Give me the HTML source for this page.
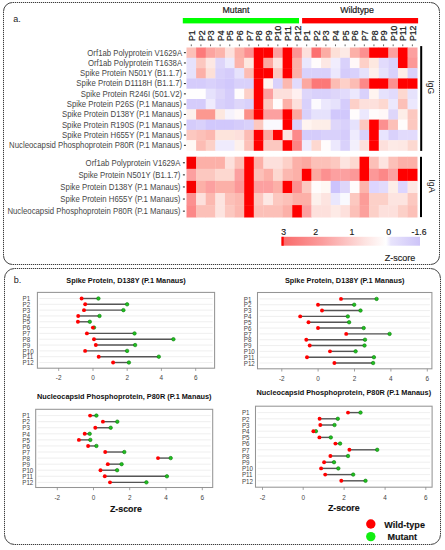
<!DOCTYPE html>
<html><head><meta charset="utf-8"><style>
html,body{margin:0;padding:0;background:#fff;}
body{width:445px;height:550px;overflow:hidden;font-family:"Liberation Sans",sans-serif;}
svg{display:block;}
</style></head><body>
<svg width="445" height="550" viewBox="0 0 445 550">
<line x1="13" y1="2.5" x2="430" y2="2.5" stroke="#d2d2d2" stroke-width="1"/>
<line x1="13" y1="2.5" x2="430" y2="2.5" stroke="#3c3c3c" stroke-width="1" stroke-dasharray="1 1"/>
<line x1="13" y1="264.5" x2="430" y2="264.5" stroke="#d2d2d2" stroke-width="1"/>
<line x1="13" y1="264.5" x2="430" y2="264.5" stroke="#3c3c3c" stroke-width="1" stroke-dasharray="1 1"/>
<line x1="3.5" y1="12" x2="3.5" y2="255" stroke="#d2d2d2" stroke-width="1"/>
<line x1="3.5" y1="12" x2="3.5" y2="255" stroke="#3c3c3c" stroke-width="1" stroke-dasharray="1 1"/>
<line x1="439.5" y1="12" x2="439.5" y2="255" stroke="#d2d2d2" stroke-width="1"/>
<line x1="439.5" y1="12" x2="439.5" y2="255" stroke="#3c3c3c" stroke-width="1" stroke-dasharray="1 1"/>
<line x1="15" y1="268.5" x2="430" y2="268.5" stroke="#d2d2d2" stroke-width="1"/>
<line x1="15" y1="268.5" x2="430" y2="268.5" stroke="#3c3c3c" stroke-width="1" stroke-dasharray="1 1"/>
<line x1="15" y1="544.5" x2="430" y2="544.5" stroke="#d2d2d2" stroke-width="1"/>
<line x1="15" y1="544.5" x2="430" y2="544.5" stroke="#3c3c3c" stroke-width="1" stroke-dasharray="1 1"/>
<line x1="4.5" y1="279" x2="4.5" y2="534" stroke="#d2d2d2" stroke-width="1"/>
<line x1="4.5" y1="279" x2="4.5" y2="534" stroke="#3c3c3c" stroke-width="1" stroke-dasharray="1 1"/>
<line x1="440.5" y1="279" x2="440.5" y2="534" stroke="#d2d2d2" stroke-width="1"/>
<line x1="440.5" y1="279" x2="440.5" y2="534" stroke="#3c3c3c" stroke-width="1" stroke-dasharray="1 1"/>
<path d="M3.5,11.5 A9,9 0 0 1 12.5,2.5" fill="none" stroke="#444" stroke-width="1.0"/>
<path d="M430.5,2.5 A9,9 0 0 1 439.5,11.5" fill="none" stroke="#444" stroke-width="1.0"/>
<path d="M439.5,255.5 A9,9 0 0 1 430.5,264.5" fill="none" stroke="#444" stroke-width="1.0"/>
<path d="M12.5,264.5 A9,9 0 0 1 3.5,255.5" fill="none" stroke="#444" stroke-width="1.0"/>
<path d="M4.5,278.5 A10,10 0 0 1 14.5,268.5" fill="none" stroke="#444" stroke-width="1.0"/>
<path d="M430.5,268.5 A10,10 0 0 1 440.5,278.5" fill="none" stroke="#444" stroke-width="1.0"/>
<path d="M440.5,534.5 A10,10 0 0 1 430.5,544.5" fill="none" stroke="#444" stroke-width="1.0"/>
<path d="M14.5,544.5 A10,10 0 0 1 4.5,534.5" fill="none" stroke="#444" stroke-width="1.0"/>
<text x="13.3" y="22" font-size="9" fill="#222" font-family="Liberation Sans, sans-serif">a.</text>
<text x="13.8" y="282.5" font-size="9" fill="#222" font-family="Liberation Sans, sans-serif">b.</text>
<text x="236" y="12.9" font-size="8.8" fill="#1a1a1a" stroke="#1a1a1a" stroke-width="0.2" text-anchor="middle" font-family="Liberation Sans, sans-serif">Mutant</text>
<text x="357" y="12.9" font-size="8.8" fill="#1a1a1a" stroke="#1a1a1a" stroke-width="0.2" text-anchor="middle" font-family="Liberation Sans, sans-serif">Wildtype</text>
<rect x="182.8" y="18" width="116.2" height="5.4" fill="#00ff00"/>
<rect x="302.1" y="18" width="116" height="5.4" fill="#ff0000"/>
<text transform="translate(194.91,41.1) rotate(-90)" font-size="8.7" fill="#1a1a1a" stroke="#1a1a1a" stroke-width="0.25" font-family="Liberation Sans, sans-serif">P1</text>
<line x1="191.31" y1="44.4" x2="191.31" y2="46.2" stroke="#555" stroke-width="0.9"/>
<text transform="translate(204.52,41.1) rotate(-90)" font-size="8.7" fill="#1a1a1a" stroke="#1a1a1a" stroke-width="0.25" font-family="Liberation Sans, sans-serif">P2</text>
<line x1="200.92" y1="44.4" x2="200.92" y2="46.2" stroke="#555" stroke-width="0.9"/>
<text transform="translate(214.13,41.1) rotate(-90)" font-size="8.7" fill="#1a1a1a" stroke="#1a1a1a" stroke-width="0.25" font-family="Liberation Sans, sans-serif">P3</text>
<line x1="210.53" y1="44.4" x2="210.53" y2="46.2" stroke="#555" stroke-width="0.9"/>
<text transform="translate(223.74,41.1) rotate(-90)" font-size="8.7" fill="#1a1a1a" stroke="#1a1a1a" stroke-width="0.25" font-family="Liberation Sans, sans-serif">P4</text>
<line x1="220.14" y1="44.4" x2="220.14" y2="46.2" stroke="#555" stroke-width="0.9"/>
<text transform="translate(233.36,41.1) rotate(-90)" font-size="8.7" fill="#1a1a1a" stroke="#1a1a1a" stroke-width="0.25" font-family="Liberation Sans, sans-serif">P5</text>
<line x1="229.76" y1="44.4" x2="229.76" y2="46.2" stroke="#555" stroke-width="0.9"/>
<text transform="translate(242.97,41.1) rotate(-90)" font-size="8.7" fill="#1a1a1a" stroke="#1a1a1a" stroke-width="0.25" font-family="Liberation Sans, sans-serif">P6</text>
<line x1="239.37" y1="44.4" x2="239.37" y2="46.2" stroke="#555" stroke-width="0.9"/>
<text transform="translate(252.58,41.1) rotate(-90)" font-size="8.7" fill="#1a1a1a" stroke="#1a1a1a" stroke-width="0.25" font-family="Liberation Sans, sans-serif">P7</text>
<line x1="248.98" y1="44.4" x2="248.98" y2="46.2" stroke="#555" stroke-width="0.9"/>
<text transform="translate(262.19,41.1) rotate(-90)" font-size="8.7" fill="#1a1a1a" stroke="#1a1a1a" stroke-width="0.25" font-family="Liberation Sans, sans-serif">P8</text>
<line x1="258.59" y1="44.4" x2="258.59" y2="46.2" stroke="#555" stroke-width="0.9"/>
<text transform="translate(271.81,41.1) rotate(-90)" font-size="8.7" fill="#1a1a1a" stroke="#1a1a1a" stroke-width="0.25" font-family="Liberation Sans, sans-serif">P9</text>
<line x1="268.21" y1="44.4" x2="268.21" y2="46.2" stroke="#555" stroke-width="0.9"/>
<text transform="translate(281.42,41.1) rotate(-90)" font-size="8.7" fill="#1a1a1a" stroke="#1a1a1a" stroke-width="0.25" font-family="Liberation Sans, sans-serif">P10</text>
<line x1="277.82" y1="44.4" x2="277.82" y2="46.2" stroke="#555" stroke-width="0.9"/>
<text transform="translate(291.03,41.1) rotate(-90)" font-size="8.7" fill="#1a1a1a" stroke="#1a1a1a" stroke-width="0.25" font-family="Liberation Sans, sans-serif">P11</text>
<line x1="287.43" y1="44.4" x2="287.43" y2="46.2" stroke="#555" stroke-width="0.9"/>
<text transform="translate(300.64,41.1) rotate(-90)" font-size="8.7" fill="#1a1a1a" stroke="#1a1a1a" stroke-width="0.25" font-family="Liberation Sans, sans-serif">P12</text>
<line x1="297.04" y1="44.4" x2="297.04" y2="46.2" stroke="#555" stroke-width="0.9"/>
<text transform="translate(310.26,41.1) rotate(-90)" font-size="8.7" fill="#1a1a1a" stroke="#1a1a1a" stroke-width="0.25" font-family="Liberation Sans, sans-serif">P1</text>
<line x1="306.66" y1="44.4" x2="306.66" y2="46.2" stroke="#555" stroke-width="0.9"/>
<text transform="translate(319.87,41.1) rotate(-90)" font-size="8.7" fill="#1a1a1a" stroke="#1a1a1a" stroke-width="0.25" font-family="Liberation Sans, sans-serif">P2</text>
<line x1="316.27" y1="44.4" x2="316.27" y2="46.2" stroke="#555" stroke-width="0.9"/>
<text transform="translate(329.48,41.1) rotate(-90)" font-size="8.7" fill="#1a1a1a" stroke="#1a1a1a" stroke-width="0.25" font-family="Liberation Sans, sans-serif">P3</text>
<line x1="325.88" y1="44.4" x2="325.88" y2="46.2" stroke="#555" stroke-width="0.9"/>
<text transform="translate(339.09,41.1) rotate(-90)" font-size="8.7" fill="#1a1a1a" stroke="#1a1a1a" stroke-width="0.25" font-family="Liberation Sans, sans-serif">P4</text>
<line x1="335.49" y1="44.4" x2="335.49" y2="46.2" stroke="#555" stroke-width="0.9"/>
<text transform="translate(348.71,41.1) rotate(-90)" font-size="8.7" fill="#1a1a1a" stroke="#1a1a1a" stroke-width="0.25" font-family="Liberation Sans, sans-serif">P5</text>
<line x1="345.11" y1="44.4" x2="345.11" y2="46.2" stroke="#555" stroke-width="0.9"/>
<text transform="translate(358.32,41.1) rotate(-90)" font-size="8.7" fill="#1a1a1a" stroke="#1a1a1a" stroke-width="0.25" font-family="Liberation Sans, sans-serif">P6</text>
<line x1="354.72" y1="44.4" x2="354.72" y2="46.2" stroke="#555" stroke-width="0.9"/>
<text transform="translate(367.93,41.1) rotate(-90)" font-size="8.7" fill="#1a1a1a" stroke="#1a1a1a" stroke-width="0.25" font-family="Liberation Sans, sans-serif">P7</text>
<line x1="364.33" y1="44.4" x2="364.33" y2="46.2" stroke="#555" stroke-width="0.9"/>
<text transform="translate(377.54,41.1) rotate(-90)" font-size="8.7" fill="#1a1a1a" stroke="#1a1a1a" stroke-width="0.25" font-family="Liberation Sans, sans-serif">P8</text>
<line x1="373.94" y1="44.4" x2="373.94" y2="46.2" stroke="#555" stroke-width="0.9"/>
<text transform="translate(387.16,41.1) rotate(-90)" font-size="8.7" fill="#1a1a1a" stroke="#1a1a1a" stroke-width="0.25" font-family="Liberation Sans, sans-serif">P9</text>
<line x1="383.56" y1="44.4" x2="383.56" y2="46.2" stroke="#555" stroke-width="0.9"/>
<text transform="translate(396.77,41.1) rotate(-90)" font-size="8.7" fill="#1a1a1a" stroke="#1a1a1a" stroke-width="0.25" font-family="Liberation Sans, sans-serif">P10</text>
<line x1="393.17" y1="44.4" x2="393.17" y2="46.2" stroke="#555" stroke-width="0.9"/>
<text transform="translate(406.38,41.1) rotate(-90)" font-size="8.7" fill="#1a1a1a" stroke="#1a1a1a" stroke-width="0.25" font-family="Liberation Sans, sans-serif">P11</text>
<line x1="402.78" y1="44.4" x2="402.78" y2="46.2" stroke="#555" stroke-width="0.9"/>
<text transform="translate(415.99,41.1) rotate(-90)" font-size="8.7" fill="#1a1a1a" stroke="#1a1a1a" stroke-width="0.25" font-family="Liberation Sans, sans-serif">P12</text>
<line x1="412.39" y1="44.4" x2="412.39" y2="46.2" stroke="#555" stroke-width="0.9"/>
<rect x="186.50" y="47.50" width="9.91" height="10.60" fill="#fcc0b8"/>
<rect x="196.11" y="47.50" width="9.91" height="10.60" fill="#fd7a7a"/>
<rect x="205.72" y="47.50" width="9.91" height="10.60" fill="#fca4a0"/>
<rect x="215.34" y="47.50" width="9.91" height="10.60" fill="#fcb4ac"/>
<rect x="224.95" y="47.50" width="9.91" height="10.60" fill="#fde0dc"/>
<rect x="234.56" y="47.50" width="9.91" height="10.60" fill="#fcb0a8"/>
<rect x="244.18" y="47.50" width="9.91" height="10.60" fill="#fc9090"/>
<rect x="253.79" y="47.50" width="9.91" height="10.60" fill="#ff0000"/>
<rect x="263.40" y="47.50" width="9.91" height="10.60" fill="#ff0000"/>
<rect x="273.01" y="47.50" width="9.91" height="10.60" fill="#fca0a0"/>
<rect x="282.62" y="47.50" width="9.91" height="10.60" fill="#ff0000"/>
<rect x="292.24" y="47.50" width="9.91" height="10.60" fill="#fc9494"/>
<rect x="301.85" y="47.50" width="9.91" height="10.60" fill="#fde0dc"/>
<rect x="311.46" y="47.50" width="9.91" height="10.60" fill="#fc7070"/>
<rect x="321.07" y="47.50" width="9.91" height="10.60" fill="#fcaca4"/>
<rect x="330.69" y="47.50" width="9.91" height="10.60" fill="#fde0d8"/>
<rect x="340.30" y="47.50" width="9.91" height="10.60" fill="#fdeae6"/>
<rect x="349.91" y="47.50" width="9.91" height="10.60" fill="#fcb0a8"/>
<rect x="359.52" y="47.50" width="9.91" height="10.60" fill="#fc9090"/>
<rect x="369.14" y="47.50" width="9.91" height="10.60" fill="#ff0000"/>
<rect x="378.75" y="47.50" width="9.91" height="10.60" fill="#ff0000"/>
<rect x="388.36" y="47.50" width="9.91" height="10.60" fill="#fca0a0"/>
<rect x="397.97" y="47.50" width="9.91" height="10.60" fill="#ff0000"/>
<rect x="407.59" y="47.50" width="9.91" height="10.60" fill="#fca0a0"/>
<rect x="186.50" y="57.80" width="9.91" height="10.60" fill="#e6e2fc"/>
<rect x="196.11" y="57.80" width="9.91" height="10.60" fill="#fcc8c0"/>
<rect x="205.72" y="57.80" width="9.91" height="10.60" fill="#fde8e4"/>
<rect x="215.34" y="57.80" width="9.91" height="10.60" fill="#ded6fa"/>
<rect x="224.95" y="57.80" width="9.91" height="10.60" fill="#eceafd"/>
<rect x="234.56" y="57.80" width="9.91" height="10.60" fill="#fcb4ac"/>
<rect x="244.18" y="57.80" width="9.91" height="10.60" fill="#fde8e0"/>
<rect x="253.79" y="57.80" width="9.91" height="10.60" fill="#ff0000"/>
<rect x="263.40" y="57.80" width="9.91" height="10.60" fill="#fca8a0"/>
<rect x="273.01" y="57.80" width="9.91" height="10.60" fill="#fde4e0"/>
<rect x="282.62" y="57.80" width="9.91" height="10.60" fill="#ff0000"/>
<rect x="292.24" y="57.80" width="9.91" height="10.60" fill="#fcb0a8"/>
<rect x="301.85" y="57.80" width="9.91" height="10.60" fill="#eae7fd"/>
<rect x="311.46" y="57.80" width="9.91" height="10.60" fill="#fffcfc"/>
<rect x="321.07" y="57.80" width="9.91" height="10.60" fill="#fde8e4"/>
<rect x="330.69" y="57.80" width="9.91" height="10.60" fill="#f1edfd"/>
<rect x="340.30" y="57.80" width="9.91" height="10.60" fill="#d9d1fb"/>
<rect x="349.91" y="57.80" width="9.91" height="10.60" fill="#fff8f8"/>
<rect x="359.52" y="57.80" width="9.91" height="10.60" fill="#fdd0c8"/>
<rect x="369.14" y="57.80" width="9.91" height="10.60" fill="#fde8e0"/>
<rect x="378.75" y="57.80" width="9.91" height="10.60" fill="#e2dbfc"/>
<rect x="388.36" y="57.80" width="9.91" height="10.60" fill="#d9d1fb"/>
<rect x="397.97" y="57.80" width="9.91" height="10.60" fill="#ff0000"/>
<rect x="407.59" y="57.80" width="9.91" height="10.60" fill="#fc9898"/>
<rect x="186.50" y="68.10" width="9.91" height="10.60" fill="#e6e2fc"/>
<rect x="196.11" y="68.10" width="9.91" height="10.60" fill="#fcb0a8"/>
<rect x="205.72" y="68.10" width="9.91" height="10.60" fill="#fde0d8"/>
<rect x="215.34" y="68.10" width="9.91" height="10.60" fill="#d9d1fb"/>
<rect x="224.95" y="68.10" width="9.91" height="10.60" fill="#d5ccfb"/>
<rect x="234.56" y="68.10" width="9.91" height="10.60" fill="#e6e2fc"/>
<rect x="244.18" y="68.10" width="9.91" height="10.60" fill="#fcbcb4"/>
<rect x="253.79" y="68.10" width="9.91" height="10.60" fill="#ff0000"/>
<rect x="263.40" y="68.10" width="9.91" height="10.60" fill="#ff0000"/>
<rect x="273.01" y="68.10" width="9.91" height="10.60" fill="#fcc8c0"/>
<rect x="282.62" y="68.10" width="9.91" height="10.60" fill="#ff0000"/>
<rect x="292.24" y="68.10" width="9.91" height="10.60" fill="#fcb0a8"/>
<rect x="301.85" y="68.10" width="9.91" height="10.60" fill="#d9d1fb"/>
<rect x="311.46" y="68.10" width="9.91" height="10.60" fill="#d9d1fb"/>
<rect x="321.07" y="68.10" width="9.91" height="10.60" fill="#d9d1fb"/>
<rect x="330.69" y="68.10" width="9.91" height="10.60" fill="#ece8fd"/>
<rect x="340.30" y="68.10" width="9.91" height="10.60" fill="#d5ccfb"/>
<rect x="349.91" y="68.10" width="9.91" height="10.60" fill="#d9d1fb"/>
<rect x="359.52" y="68.10" width="9.91" height="10.60" fill="#e6e2fc"/>
<rect x="369.14" y="68.10" width="9.91" height="10.60" fill="#fdf0ec"/>
<rect x="378.75" y="68.10" width="9.91" height="10.60" fill="#e6e2fc"/>
<rect x="388.36" y="68.10" width="9.91" height="10.60" fill="#d9d1fb"/>
<rect x="397.97" y="68.10" width="9.91" height="10.60" fill="#fdeee8"/>
<rect x="407.59" y="68.10" width="9.91" height="10.60" fill="#d9d1fb"/>
<rect x="186.50" y="78.40" width="9.91" height="10.60" fill="#d5ccfb"/>
<rect x="196.11" y="78.40" width="9.91" height="10.60" fill="#d5ccfb"/>
<rect x="205.72" y="78.40" width="9.91" height="10.60" fill="#d9d1fb"/>
<rect x="215.34" y="78.40" width="9.91" height="10.60" fill="#d5ccfb"/>
<rect x="224.95" y="78.40" width="9.91" height="10.60" fill="#d1c8fc"/>
<rect x="234.56" y="78.40" width="9.91" height="10.60" fill="#d9d1fb"/>
<rect x="244.18" y="78.40" width="9.91" height="10.60" fill="#d9d1fb"/>
<rect x="253.79" y="78.40" width="9.91" height="10.60" fill="#ff0000"/>
<rect x="263.40" y="78.40" width="9.91" height="10.60" fill="#fff4f0"/>
<rect x="273.01" y="78.40" width="9.91" height="10.60" fill="#d9d1fb"/>
<rect x="282.62" y="78.40" width="9.91" height="10.60" fill="#fcb8b0"/>
<rect x="292.24" y="78.40" width="9.91" height="10.60" fill="#e2dbfc"/>
<rect x="301.85" y="78.40" width="9.91" height="10.60" fill="#fca8a0"/>
<rect x="311.46" y="78.40" width="9.91" height="10.60" fill="#fc7878"/>
<rect x="321.07" y="78.40" width="9.91" height="10.60" fill="#fc7878"/>
<rect x="330.69" y="78.40" width="9.91" height="10.60" fill="#fcbcb4"/>
<rect x="340.30" y="78.40" width="9.91" height="10.60" fill="#fdd0c8"/>
<rect x="349.91" y="78.40" width="9.91" height="10.60" fill="#fcbcb4"/>
<rect x="359.52" y="78.40" width="9.91" height="10.60" fill="#fc8888"/>
<rect x="369.14" y="78.40" width="9.91" height="10.60" fill="#ff0000"/>
<rect x="378.75" y="78.40" width="9.91" height="10.60" fill="#ff0000"/>
<rect x="388.36" y="78.40" width="9.91" height="10.60" fill="#fc9090"/>
<rect x="397.97" y="78.40" width="9.91" height="10.60" fill="#ff0000"/>
<rect x="407.59" y="78.40" width="9.91" height="10.60" fill="#ff0000"/>
<rect x="186.50" y="88.70" width="9.91" height="10.60" fill="#fffefe"/>
<rect x="196.11" y="88.70" width="9.91" height="10.60" fill="#fffefe"/>
<rect x="205.72" y="88.70" width="9.91" height="10.60" fill="#e6e2fc"/>
<rect x="215.34" y="88.70" width="9.91" height="10.60" fill="#ded6fa"/>
<rect x="224.95" y="88.70" width="9.91" height="10.60" fill="#d5ccfb"/>
<rect x="234.56" y="88.70" width="9.91" height="10.60" fill="#fffcfc"/>
<rect x="244.18" y="88.70" width="9.91" height="10.60" fill="#fcd0c8"/>
<rect x="253.79" y="88.70" width="9.91" height="10.60" fill="#ff0000"/>
<rect x="263.40" y="88.70" width="9.91" height="10.60" fill="#fca0a0"/>
<rect x="273.01" y="88.70" width="9.91" height="10.60" fill="#fde0dc"/>
<rect x="282.62" y="88.70" width="9.91" height="10.60" fill="#fde0dc"/>
<rect x="292.24" y="88.70" width="9.91" height="10.60" fill="#fff0f0"/>
<rect x="301.85" y="88.70" width="9.91" height="10.60" fill="#ded6fa"/>
<rect x="311.46" y="88.70" width="9.91" height="10.60" fill="#d9d1fb"/>
<rect x="321.07" y="88.70" width="9.91" height="10.60" fill="#d9d1fb"/>
<rect x="330.69" y="88.70" width="9.91" height="10.60" fill="#ded6fa"/>
<rect x="340.30" y="88.70" width="9.91" height="10.60" fill="#e2dbfc"/>
<rect x="349.91" y="88.70" width="9.91" height="10.60" fill="#ece8fd"/>
<rect x="359.52" y="88.70" width="9.91" height="10.60" fill="#d9d1fb"/>
<rect x="369.14" y="88.70" width="9.91" height="10.60" fill="#fff4f0"/>
<rect x="378.75" y="88.70" width="9.91" height="10.60" fill="#e6e2fc"/>
<rect x="388.36" y="88.70" width="9.91" height="10.60" fill="#e2dbfc"/>
<rect x="397.97" y="88.70" width="9.91" height="10.60" fill="#fdd8d0"/>
<rect x="407.59" y="88.70" width="9.91" height="10.60" fill="#e6e2fc"/>
<rect x="186.50" y="99.00" width="9.91" height="10.60" fill="#d5ccfb"/>
<rect x="196.11" y="99.00" width="9.91" height="10.60" fill="#d5ccfb"/>
<rect x="205.72" y="99.00" width="9.91" height="10.60" fill="#efebfd"/>
<rect x="215.34" y="99.00" width="9.91" height="10.60" fill="#d9d1fb"/>
<rect x="224.95" y="99.00" width="9.91" height="10.60" fill="#d5ccfb"/>
<rect x="234.56" y="99.00" width="9.91" height="10.60" fill="#ded6fa"/>
<rect x="244.18" y="99.00" width="9.91" height="10.60" fill="#d9d1fb"/>
<rect x="253.79" y="99.00" width="9.91" height="10.60" fill="#ff0000"/>
<rect x="263.40" y="99.00" width="9.91" height="10.60" fill="#fcc8c0"/>
<rect x="273.01" y="99.00" width="9.91" height="10.60" fill="#fffcfc"/>
<rect x="282.62" y="99.00" width="9.91" height="10.60" fill="#fcb0a8"/>
<rect x="292.24" y="99.00" width="9.91" height="10.60" fill="#fde0dc"/>
<rect x="301.85" y="99.00" width="9.91" height="10.60" fill="#d9d1fb"/>
<rect x="311.46" y="99.00" width="9.91" height="10.60" fill="#fcfafe"/>
<rect x="321.07" y="99.00" width="9.91" height="10.60" fill="#ece8fd"/>
<rect x="330.69" y="99.00" width="9.91" height="10.60" fill="#e6e2fc"/>
<rect x="340.30" y="99.00" width="9.91" height="10.60" fill="#d5ccfb"/>
<rect x="349.91" y="99.00" width="9.91" height="10.60" fill="#fdd0c8"/>
<rect x="359.52" y="99.00" width="9.91" height="10.60" fill="#fde0dc"/>
<rect x="369.14" y="99.00" width="9.91" height="10.60" fill="#fde0dc"/>
<rect x="378.75" y="99.00" width="9.91" height="10.60" fill="#fdd8d0"/>
<rect x="388.36" y="99.00" width="9.91" height="10.60" fill="#ece8fd"/>
<rect x="397.97" y="99.00" width="9.91" height="10.60" fill="#fcc0b8"/>
<rect x="407.59" y="99.00" width="9.91" height="10.60" fill="#ece8fd"/>
<rect x="186.50" y="109.30" width="9.91" height="10.60" fill="#fdf0ec"/>
<rect x="196.11" y="109.30" width="9.91" height="10.60" fill="#fc9890"/>
<rect x="205.72" y="109.30" width="9.91" height="10.60" fill="#fc9890"/>
<rect x="215.34" y="109.30" width="9.91" height="10.60" fill="#fde8e0"/>
<rect x="224.95" y="109.30" width="9.91" height="10.60" fill="#f7f3fc"/>
<rect x="234.56" y="109.30" width="9.91" height="10.60" fill="#fff8f8"/>
<rect x="244.18" y="109.30" width="9.91" height="10.60" fill="#fc9088"/>
<rect x="253.79" y="109.30" width="9.91" height="10.60" fill="#ff0000"/>
<rect x="263.40" y="109.30" width="9.91" height="10.60" fill="#fca0a0"/>
<rect x="273.01" y="109.30" width="9.91" height="10.60" fill="#fca0a0"/>
<rect x="282.62" y="109.30" width="9.91" height="10.60" fill="#ff0000"/>
<rect x="292.24" y="109.30" width="9.91" height="10.60" fill="#fca8a0"/>
<rect x="301.85" y="109.30" width="9.91" height="10.60" fill="#d9d1fb"/>
<rect x="311.46" y="109.30" width="9.91" height="10.60" fill="#e6e2fc"/>
<rect x="321.07" y="109.30" width="9.91" height="10.60" fill="#e6e2fc"/>
<rect x="330.69" y="109.30" width="9.91" height="10.60" fill="#d1c8fc"/>
<rect x="340.30" y="109.30" width="9.91" height="10.60" fill="#d1c8fc"/>
<rect x="349.91" y="109.30" width="9.91" height="10.60" fill="#fffcfc"/>
<rect x="359.52" y="109.30" width="9.91" height="10.60" fill="#ece8fd"/>
<rect x="369.14" y="109.30" width="9.91" height="10.60" fill="#fffcfc"/>
<rect x="378.75" y="109.30" width="9.91" height="10.60" fill="#fff8f8"/>
<rect x="388.36" y="109.30" width="9.91" height="10.60" fill="#ded6fa"/>
<rect x="397.97" y="109.30" width="9.91" height="10.60" fill="#fdeee8"/>
<rect x="407.59" y="109.30" width="9.91" height="10.60" fill="#fcc8c0"/>
<rect x="186.50" y="119.60" width="9.91" height="10.60" fill="#d5ccfb"/>
<rect x="196.11" y="119.60" width="9.91" height="10.60" fill="#d9d1fb"/>
<rect x="205.72" y="119.60" width="9.91" height="10.60" fill="#d1c8fc"/>
<rect x="215.34" y="119.60" width="9.91" height="10.60" fill="#d1c8fc"/>
<rect x="224.95" y="119.60" width="9.91" height="10.60" fill="#d1c8fc"/>
<rect x="234.56" y="119.60" width="9.91" height="10.60" fill="#d5ccfb"/>
<rect x="244.18" y="119.60" width="9.91" height="10.60" fill="#d9d1fb"/>
<rect x="253.79" y="119.60" width="9.91" height="10.60" fill="#fcc8c0"/>
<rect x="263.40" y="119.60" width="9.91" height="10.60" fill="#faf9fe"/>
<rect x="273.01" y="119.60" width="9.91" height="10.60" fill="#faf9fe"/>
<rect x="282.62" y="119.60" width="9.91" height="10.60" fill="#ff0000"/>
<rect x="292.24" y="119.60" width="9.91" height="10.60" fill="#d9d1fb"/>
<rect x="301.85" y="119.60" width="9.91" height="10.60" fill="#fff4f0"/>
<rect x="311.46" y="119.60" width="9.91" height="10.60" fill="#fdeee8"/>
<rect x="321.07" y="119.60" width="9.91" height="10.60" fill="#fdeee8"/>
<rect x="330.69" y="119.60" width="9.91" height="10.60" fill="#ded6fa"/>
<rect x="340.30" y="119.60" width="9.91" height="10.60" fill="#d9d1fb"/>
<rect x="349.91" y="119.60" width="9.91" height="10.60" fill="#e6e2fc"/>
<rect x="359.52" y="119.60" width="9.91" height="10.60" fill="#fcc8c0"/>
<rect x="369.14" y="119.60" width="9.91" height="10.60" fill="#ff0000"/>
<rect x="378.75" y="119.60" width="9.91" height="10.60" fill="#fc9090"/>
<rect x="388.36" y="119.60" width="9.91" height="10.60" fill="#fcc0b8"/>
<rect x="397.97" y="119.60" width="9.91" height="10.60" fill="#fffcfc"/>
<rect x="407.59" y="119.60" width="9.91" height="10.60" fill="#fcc8c0"/>
<rect x="186.50" y="129.90" width="9.91" height="10.60" fill="#fcc8c0"/>
<rect x="196.11" y="129.90" width="9.91" height="10.60" fill="#fcc0b8"/>
<rect x="205.72" y="129.90" width="9.91" height="10.60" fill="#fcb8b0"/>
<rect x="215.34" y="129.90" width="9.91" height="10.60" fill="#fde4dc"/>
<rect x="224.95" y="129.90" width="9.91" height="10.60" fill="#fde4dc"/>
<rect x="234.56" y="129.90" width="9.91" height="10.60" fill="#fde0dc"/>
<rect x="244.18" y="129.90" width="9.91" height="10.60" fill="#fcbcb4"/>
<rect x="253.79" y="129.90" width="9.91" height="10.60" fill="#ff0000"/>
<rect x="263.40" y="129.90" width="9.91" height="10.60" fill="#fca8a0"/>
<rect x="273.01" y="129.90" width="9.91" height="10.60" fill="#ff0000"/>
<rect x="282.62" y="129.90" width="9.91" height="10.60" fill="#fde4e0"/>
<rect x="292.24" y="129.90" width="9.91" height="10.60" fill="#fc8a8a"/>
<rect x="301.85" y="129.90" width="9.91" height="10.60" fill="#d5ccfb"/>
<rect x="311.46" y="129.90" width="9.91" height="10.60" fill="#d5ccfb"/>
<rect x="321.07" y="129.90" width="9.91" height="10.60" fill="#d9d1fb"/>
<rect x="330.69" y="129.90" width="9.91" height="10.60" fill="#d9d1fb"/>
<rect x="340.30" y="129.90" width="9.91" height="10.60" fill="#d5ccfb"/>
<rect x="349.91" y="129.90" width="9.91" height="10.60" fill="#efebfd"/>
<rect x="359.52" y="129.90" width="9.91" height="10.60" fill="#d9d1fb"/>
<rect x="369.14" y="129.90" width="9.91" height="10.60" fill="#ff0000"/>
<rect x="378.75" y="129.90" width="9.91" height="10.60" fill="#e8e4fe"/>
<rect x="388.36" y="129.90" width="9.91" height="10.60" fill="#d9d1fb"/>
<rect x="397.97" y="129.90" width="9.91" height="10.60" fill="#e2dbfc"/>
<rect x="407.59" y="129.90" width="9.91" height="10.60" fill="#e2dbfc"/>
<rect x="186.50" y="140.20" width="9.91" height="10.60" fill="#fff8f4"/>
<rect x="196.11" y="140.20" width="9.91" height="10.60" fill="#fcbcb4"/>
<rect x="205.72" y="140.20" width="9.91" height="10.60" fill="#fcd0c8"/>
<rect x="215.34" y="140.20" width="9.91" height="10.60" fill="#efebfd"/>
<rect x="224.95" y="140.20" width="9.91" height="10.60" fill="#efebfd"/>
<rect x="234.56" y="140.20" width="9.91" height="10.60" fill="#fdf0ec"/>
<rect x="244.18" y="140.20" width="9.91" height="10.60" fill="#fcc0b8"/>
<rect x="253.79" y="140.20" width="9.91" height="10.60" fill="#ff0000"/>
<rect x="263.40" y="140.20" width="9.91" height="10.60" fill="#fcc8c0"/>
<rect x="273.01" y="140.20" width="9.91" height="10.60" fill="#fcc8c0"/>
<rect x="282.62" y="140.20" width="9.91" height="10.60" fill="#ff0000"/>
<rect x="292.24" y="140.20" width="9.91" height="10.60" fill="#fc8484"/>
<rect x="301.85" y="140.20" width="9.91" height="10.60" fill="#efebfd"/>
<rect x="311.46" y="140.20" width="9.91" height="10.60" fill="#fdd8d0"/>
<rect x="321.07" y="140.20" width="9.91" height="10.60" fill="#fffcfc"/>
<rect x="330.69" y="140.20" width="9.91" height="10.60" fill="#ece8fd"/>
<rect x="340.30" y="140.20" width="9.91" height="10.60" fill="#d9d1fb"/>
<rect x="349.91" y="140.20" width="9.91" height="10.60" fill="#f3f0fc"/>
<rect x="359.52" y="140.20" width="9.91" height="10.60" fill="#fde0dc"/>
<rect x="369.14" y="140.20" width="9.91" height="10.60" fill="#ff0000"/>
<rect x="378.75" y="140.20" width="9.91" height="10.60" fill="#fde0dc"/>
<rect x="388.36" y="140.20" width="9.91" height="10.60" fill="#fdeae6"/>
<rect x="397.97" y="140.20" width="9.91" height="10.60" fill="#fde8e4"/>
<rect x="407.59" y="140.20" width="9.91" height="10.60" fill="#fcd8d0"/>
<rect x="186.50" y="156.70" width="9.91" height="12.40" fill="#f70000"/>
<rect x="196.11" y="156.70" width="9.91" height="12.40" fill="#fcb0a8"/>
<rect x="205.72" y="156.70" width="9.91" height="12.40" fill="#fcb0a8"/>
<rect x="215.34" y="156.70" width="9.91" height="12.40" fill="#fcb0a8"/>
<rect x="224.95" y="156.70" width="9.91" height="12.40" fill="#fde0dc"/>
<rect x="234.56" y="156.70" width="9.91" height="12.40" fill="#fcc0b8"/>
<rect x="244.18" y="156.70" width="9.91" height="12.40" fill="#ff0000"/>
<rect x="253.79" y="156.70" width="9.91" height="12.40" fill="#fcb0a8"/>
<rect x="263.40" y="156.70" width="9.91" height="12.40" fill="#fde0dc"/>
<rect x="273.01" y="156.70" width="9.91" height="12.40" fill="#fde0dc"/>
<rect x="282.62" y="156.70" width="9.91" height="12.40" fill="#fdd0c8"/>
<rect x="292.24" y="156.70" width="9.91" height="12.40" fill="#fcb0a8"/>
<rect x="301.85" y="156.70" width="9.91" height="12.40" fill="#fca8a0"/>
<rect x="311.46" y="156.70" width="9.91" height="12.40" fill="#fcc0b8"/>
<rect x="321.07" y="156.70" width="9.91" height="12.40" fill="#fcc0b8"/>
<rect x="330.69" y="156.70" width="9.91" height="12.40" fill="#fcc8c0"/>
<rect x="340.30" y="156.70" width="9.91" height="12.40" fill="#fde4e0"/>
<rect x="349.91" y="156.70" width="9.91" height="12.40" fill="#fdd8d0"/>
<rect x="359.52" y="156.70" width="9.91" height="12.40" fill="#ff0000"/>
<rect x="369.14" y="156.70" width="9.91" height="12.40" fill="#fcc0b8"/>
<rect x="378.75" y="156.70" width="9.91" height="12.40" fill="#fde4e0"/>
<rect x="388.36" y="156.70" width="9.91" height="12.40" fill="#fcc0b8"/>
<rect x="397.97" y="156.70" width="9.91" height="12.40" fill="#fcb0a8"/>
<rect x="407.59" y="156.70" width="9.91" height="12.40" fill="#fcb0a8"/>
<rect x="186.50" y="168.80" width="9.91" height="12.40" fill="#fca0a0"/>
<rect x="196.11" y="168.80" width="9.91" height="12.40" fill="#fcc8c0"/>
<rect x="205.72" y="168.80" width="9.91" height="12.40" fill="#fcc8c0"/>
<rect x="215.34" y="168.80" width="9.91" height="12.40" fill="#fdd8d0"/>
<rect x="224.95" y="168.80" width="9.91" height="12.40" fill="#fdd8d0"/>
<rect x="234.56" y="168.80" width="9.91" height="12.40" fill="#fca0a0"/>
<rect x="244.18" y="168.80" width="9.91" height="12.40" fill="#ff0000"/>
<rect x="253.79" y="168.80" width="9.91" height="12.40" fill="#fcc0b8"/>
<rect x="263.40" y="168.80" width="9.91" height="12.40" fill="#fcb0a8"/>
<rect x="273.01" y="168.80" width="9.91" height="12.40" fill="#fdd8d0"/>
<rect x="282.62" y="168.80" width="9.91" height="12.40" fill="#fcb8b0"/>
<rect x="292.24" y="168.80" width="9.91" height="12.40" fill="#fcb0a8"/>
<rect x="301.85" y="168.80" width="9.91" height="12.40" fill="#ff0000"/>
<rect x="311.46" y="168.80" width="9.91" height="12.40" fill="#fca8a0"/>
<rect x="321.07" y="168.80" width="9.91" height="12.40" fill="#fc9090"/>
<rect x="330.69" y="168.80" width="9.91" height="12.40" fill="#fca0a0"/>
<rect x="340.30" y="168.80" width="9.91" height="12.40" fill="#fca0a0"/>
<rect x="349.91" y="168.80" width="9.91" height="12.40" fill="#fc9898"/>
<rect x="359.52" y="168.80" width="9.91" height="12.40" fill="#ff0000"/>
<rect x="369.14" y="168.80" width="9.91" height="12.40" fill="#fc9898"/>
<rect x="378.75" y="168.80" width="9.91" height="12.40" fill="#fc8888"/>
<rect x="388.36" y="168.80" width="9.91" height="12.40" fill="#fca0a0"/>
<rect x="397.97" y="168.80" width="9.91" height="12.40" fill="#ff0000"/>
<rect x="407.59" y="168.80" width="9.91" height="12.40" fill="#ff0000"/>
<rect x="186.50" y="180.90" width="9.91" height="12.40" fill="#f70000"/>
<rect x="196.11" y="180.90" width="9.91" height="12.40" fill="#fcb0a8"/>
<rect x="205.72" y="180.90" width="9.91" height="12.40" fill="#fca0a0"/>
<rect x="215.34" y="180.90" width="9.91" height="12.40" fill="#fcb0a8"/>
<rect x="224.95" y="180.90" width="9.91" height="12.40" fill="#fcb0a8"/>
<rect x="234.56" y="180.90" width="9.91" height="12.40" fill="#fc9898"/>
<rect x="244.18" y="180.90" width="9.91" height="12.40" fill="#ff0000"/>
<rect x="253.79" y="180.90" width="9.91" height="12.40" fill="#fca0a0"/>
<rect x="263.40" y="180.90" width="9.91" height="12.40" fill="#fca0a0"/>
<rect x="273.01" y="180.90" width="9.91" height="12.40" fill="#fcb0a8"/>
<rect x="282.62" y="180.90" width="9.91" height="12.40" fill="#ff0000"/>
<rect x="292.24" y="180.90" width="9.91" height="12.40" fill="#fc9090"/>
<rect x="301.85" y="180.90" width="9.91" height="12.40" fill="#fcc8c0"/>
<rect x="311.46" y="180.90" width="9.91" height="12.40" fill="#fffcfc"/>
<rect x="321.07" y="180.90" width="9.91" height="12.40" fill="#fff8f4"/>
<rect x="330.69" y="180.90" width="9.91" height="12.40" fill="#ccc3fc"/>
<rect x="340.30" y="180.90" width="9.91" height="12.40" fill="#ded6fa"/>
<rect x="349.91" y="180.90" width="9.91" height="12.40" fill="#fffcfc"/>
<rect x="359.52" y="180.90" width="9.91" height="12.40" fill="#fcb4ac"/>
<rect x="369.14" y="180.90" width="9.91" height="12.40" fill="#ddd5ff"/>
<rect x="378.75" y="180.90" width="9.91" height="12.40" fill="#e2dbfc"/>
<rect x="388.36" y="180.90" width="9.91" height="12.40" fill="#fdeee8"/>
<rect x="397.97" y="180.90" width="9.91" height="12.40" fill="#ddd5ff"/>
<rect x="407.59" y="180.90" width="9.91" height="12.40" fill="#fde8e4"/>
<rect x="186.50" y="193.00" width="9.91" height="12.40" fill="#fc9090"/>
<rect x="196.11" y="193.00" width="9.91" height="12.40" fill="#fde0dc"/>
<rect x="205.72" y="193.00" width="9.91" height="12.40" fill="#fcb8b0"/>
<rect x="215.34" y="193.00" width="9.91" height="12.40" fill="#fde4e0"/>
<rect x="224.95" y="193.00" width="9.91" height="12.40" fill="#fcc0b8"/>
<rect x="234.56" y="193.00" width="9.91" height="12.40" fill="#fcb8b0"/>
<rect x="244.18" y="193.00" width="9.91" height="12.40" fill="#ff0000"/>
<rect x="253.79" y="193.00" width="9.91" height="12.40" fill="#fcc8c0"/>
<rect x="263.40" y="193.00" width="9.91" height="12.40" fill="#fde8e4"/>
<rect x="273.01" y="193.00" width="9.91" height="12.40" fill="#fcc8c0"/>
<rect x="282.62" y="193.00" width="9.91" height="12.40" fill="#fcc0b8"/>
<rect x="292.24" y="193.00" width="9.91" height="12.40" fill="#fcb0a8"/>
<rect x="301.85" y="193.00" width="9.91" height="12.40" fill="#fcb0a8"/>
<rect x="311.46" y="193.00" width="9.91" height="12.40" fill="#fdf0ec"/>
<rect x="321.07" y="193.00" width="9.91" height="12.40" fill="#fde4e0"/>
<rect x="330.69" y="193.00" width="9.91" height="12.40" fill="#eae7fd"/>
<rect x="340.30" y="193.00" width="9.91" height="12.40" fill="#f9f9fe"/>
<rect x="349.91" y="193.00" width="9.91" height="12.40" fill="#fcc8c0"/>
<rect x="359.52" y="193.00" width="9.91" height="12.40" fill="#fc9c98"/>
<rect x="369.14" y="193.00" width="9.91" height="12.40" fill="#fcd0c8"/>
<rect x="378.75" y="193.00" width="9.91" height="12.40" fill="#fcd0c8"/>
<rect x="388.36" y="193.00" width="9.91" height="12.40" fill="#fde4e0"/>
<rect x="397.97" y="193.00" width="9.91" height="12.40" fill="#fde4e0"/>
<rect x="407.59" y="193.00" width="9.91" height="12.40" fill="#fcc8c0"/>
<rect x="186.50" y="205.10" width="9.91" height="12.40" fill="#fc8888"/>
<rect x="196.11" y="205.10" width="9.91" height="12.40" fill="#fcc0b8"/>
<rect x="205.72" y="205.10" width="9.91" height="12.40" fill="#fcc0b8"/>
<rect x="215.34" y="205.10" width="9.91" height="12.40" fill="#fde4e0"/>
<rect x="224.95" y="205.10" width="9.91" height="12.40" fill="#fcc8c0"/>
<rect x="234.56" y="205.10" width="9.91" height="12.40" fill="#fcb8b0"/>
<rect x="244.18" y="205.10" width="9.91" height="12.40" fill="#ff0000"/>
<rect x="253.79" y="205.10" width="9.91" height="12.40" fill="#fcc0b8"/>
<rect x="263.40" y="205.10" width="9.91" height="12.40" fill="#fcc0b8"/>
<rect x="273.01" y="205.10" width="9.91" height="12.40" fill="#fcc0b8"/>
<rect x="282.62" y="205.10" width="9.91" height="12.40" fill="#fcb0a8"/>
<rect x="292.24" y="205.10" width="9.91" height="12.40" fill="#ff0000"/>
<rect x="301.85" y="205.10" width="9.91" height="12.40" fill="#fca0a0"/>
<rect x="311.46" y="205.10" width="9.91" height="12.40" fill="#fde0dc"/>
<rect x="321.07" y="205.10" width="9.91" height="12.40" fill="#fde0dc"/>
<rect x="330.69" y="205.10" width="9.91" height="12.40" fill="#fdeae6"/>
<rect x="340.30" y="205.10" width="9.91" height="12.40" fill="#fde0dc"/>
<rect x="349.91" y="205.10" width="9.91" height="12.40" fill="#fcc0b8"/>
<rect x="359.52" y="205.10" width="9.91" height="12.40" fill="#fca09c"/>
<rect x="369.14" y="205.10" width="9.91" height="12.40" fill="#fcd0c8"/>
<rect x="378.75" y="205.10" width="9.91" height="12.40" fill="#fde0dc"/>
<rect x="388.36" y="205.10" width="9.91" height="12.40" fill="#fde0dc"/>
<rect x="397.97" y="205.10" width="9.91" height="12.40" fill="#fcd0c8"/>
<rect x="407.59" y="205.10" width="9.91" height="12.40" fill="#fcc0b8"/>
<text transform="translate(182.1,52.65) scale(1,1.07)" y="2.7" font-size="7.8" fill="#474747" text-anchor="end" font-family="Liberation Sans, sans-serif">Orf1ab Polyprotein V1629A</text>
<line x1="183.9" y1="52.65" x2="185.9" y2="52.65" stroke="#333" stroke-width="1.1"/>
<text transform="translate(182.1,62.95) scale(1,1.07)" y="2.7" font-size="7.8" fill="#474747" text-anchor="end" font-family="Liberation Sans, sans-serif">Orf1ab Polyprotein T1638A</text>
<line x1="183.9" y1="62.95" x2="185.9" y2="62.95" stroke="#333" stroke-width="1.1"/>
<text transform="translate(182.1,73.25) scale(1,1.07)" y="2.7" font-size="7.8" fill="#474747" text-anchor="end" font-family="Liberation Sans, sans-serif">Spike Protein N501Y (B1.1.7)</text>
<line x1="183.9" y1="73.25" x2="185.9" y2="73.25" stroke="#333" stroke-width="1.1"/>
<text transform="translate(182.1,83.55) scale(1,1.07)" y="2.7" font-size="7.8" fill="#474747" text-anchor="end" font-family="Liberation Sans, sans-serif">Spike Protein D1118H (B1.1.7)</text>
<line x1="183.9" y1="83.55" x2="185.9" y2="83.55" stroke="#333" stroke-width="1.1"/>
<text transform="translate(182.1,93.85) scale(1,1.07)" y="2.7" font-size="7.8" fill="#474747" text-anchor="end" font-family="Liberation Sans, sans-serif">Spike Protein R246I (501.V2)</text>
<line x1="183.9" y1="93.85" x2="185.9" y2="93.85" stroke="#333" stroke-width="1.1"/>
<text transform="translate(182.1,104.15) scale(1,1.07)" y="2.7" font-size="7.8" fill="#474747" text-anchor="end" font-family="Liberation Sans, sans-serif">Spike Protein P26S (P.1 Manaus)</text>
<line x1="183.9" y1="104.15" x2="185.9" y2="104.15" stroke="#333" stroke-width="1.1"/>
<text transform="translate(182.1,114.45) scale(1,1.07)" y="2.7" font-size="7.8" fill="#474747" text-anchor="end" font-family="Liberation Sans, sans-serif">Spike Protein D138Y (P.1 Manaus)</text>
<line x1="183.9" y1="114.45" x2="185.9" y2="114.45" stroke="#333" stroke-width="1.1"/>
<text transform="translate(182.1,124.75) scale(1,1.07)" y="2.7" font-size="7.8" fill="#474747" text-anchor="end" font-family="Liberation Sans, sans-serif">Spike Protein R190S (P.1 Manaus)</text>
<line x1="183.9" y1="124.75" x2="185.9" y2="124.75" stroke="#333" stroke-width="1.1"/>
<text transform="translate(182.1,135.05) scale(1,1.07)" y="2.7" font-size="7.8" fill="#474747" text-anchor="end" font-family="Liberation Sans, sans-serif">Spike Protein H655Y (P.1 Manaus)</text>
<line x1="183.9" y1="135.05" x2="185.9" y2="135.05" stroke="#333" stroke-width="1.1"/>
<text transform="translate(182.1,145.35) scale(1,1.07)" y="2.7" font-size="7.8" fill="#474747" text-anchor="end" font-family="Liberation Sans, sans-serif">Nucleocapsid Phosphoprotein P80R (P.1 Manaus)</text>
<line x1="183.9" y1="145.35" x2="185.9" y2="145.35" stroke="#333" stroke-width="1.1"/>
<text transform="translate(180.4,162.75) scale(1,1.15)" y="2.75" font-size="7.8" fill="#474747" text-anchor="end" font-family="Liberation Sans, sans-serif">Orf1ab Polyprotein V1629A</text>
<line x1="182.9" y1="162.75" x2="184.9" y2="162.75" stroke="#333" stroke-width="1.1"/>
<text transform="translate(180.4,174.85) scale(1,1.15)" y="2.75" font-size="7.8" fill="#474747" text-anchor="end" font-family="Liberation Sans, sans-serif">Spike Protein N501Y (B1.1.7)</text>
<line x1="182.9" y1="174.85" x2="184.9" y2="174.85" stroke="#333" stroke-width="1.1"/>
<text transform="translate(180.4,186.95) scale(1,1.15)" y="2.75" font-size="7.8" fill="#474747" text-anchor="end" font-family="Liberation Sans, sans-serif">Spike Protein D138Y (P.1 Manaus)</text>
<line x1="182.9" y1="186.95" x2="184.9" y2="186.95" stroke="#333" stroke-width="1.1"/>
<text transform="translate(180.4,199.05) scale(1,1.15)" y="2.75" font-size="7.8" fill="#474747" text-anchor="end" font-family="Liberation Sans, sans-serif">Spike Protein H655Y (P.1 Manaus)</text>
<line x1="182.9" y1="199.05" x2="184.9" y2="199.05" stroke="#333" stroke-width="1.1"/>
<text transform="translate(180.4,211.15) scale(1,1.15)" y="2.75" font-size="7.8" fill="#474747" text-anchor="end" font-family="Liberation Sans, sans-serif">Nucleocapsid Phosphoprotein P80R (P.1 Manaus)</text>
<line x1="182.9" y1="211.15" x2="184.9" y2="211.15" stroke="#333" stroke-width="1.1"/>
<rect x="420.2" y="46.1" width="2" height="104.8" fill="#000"/>
<rect x="420.0" y="156.8" width="2" height="60.3" fill="#000"/>
<text transform="translate(428.4,80.4) rotate(90)" font-size="8.6" fill="#222" font-family="Liberation Sans, sans-serif">IgG</text>
<text transform="translate(429.0,179.3) rotate(90)" font-size="8.9" fill="#222" font-family="Liberation Sans, sans-serif">IgA</text>
<defs><linearGradient id="cb" x1="0" x2="1" y1="0" y2="0"><stop offset="0" stop-color="#f96868"/><stop offset="0.3" stop-color="#fb9e9e"/><stop offset="0.6" stop-color="#fde2e0"/><stop offset="0.755" stop-color="#ffffff"/><stop offset="0.79" stop-color="#e8e4fc"/><stop offset="1" stop-color="#cdc4f8"/></linearGradient></defs>
<rect x="281.5" y="236.8" width="138.5" height="8.9" fill="url(#cb)"/>
<rect x="281.5" y="236.8" width="2.2" height="8.9" fill="#ff0000"/>
<text x="283.7" y="234.5" font-size="8.7" fill="#1a1a1a" stroke="#1a1a1a" stroke-width="0.15" text-anchor="middle" font-family="Liberation Sans, sans-serif">3</text>
<text x="315.7" y="234.5" font-size="8.7" fill="#1a1a1a" stroke="#1a1a1a" stroke-width="0.15" text-anchor="middle" font-family="Liberation Sans, sans-serif">2</text>
<text x="352" y="234.5" font-size="8.7" fill="#1a1a1a" stroke="#1a1a1a" stroke-width="0.15" text-anchor="middle" font-family="Liberation Sans, sans-serif">1</text>
<text x="388.7" y="234.5" font-size="8.7" fill="#1a1a1a" stroke="#1a1a1a" stroke-width="0.15" text-anchor="middle" font-family="Liberation Sans, sans-serif">0</text>
<text x="419.0" y="234.5" font-size="8.7" fill="#1a1a1a" stroke="#1a1a1a" stroke-width="0.15" text-anchor="middle" font-family="Liberation Sans, sans-serif">-1.6</text>
<text x="400.1" y="260.8" font-size="9" fill="#1a1a1a" stroke="#1a1a1a" stroke-width="0.15" text-anchor="middle" font-family="Liberation Sans, sans-serif">Z-score</text>
<text x="126.0" y="282.6" font-size="7.33" font-weight="bold" fill="#111" text-anchor="middle" font-family="Liberation Sans, sans-serif">Spike Protein, D138Y (P.1 Manaus)</text>
<line x1="39.4" y1="298.50" x2="212.6" y2="298.50" stroke="#ebebeb" stroke-width="0.8"/>
<text transform="translate(22.6,298.50) scale(1,1.06)" y="2.55" font-size="6.2" fill="#454545" font-family="Liberation Sans, sans-serif">P1</text>
<line x1="39.4" y1="304.32" x2="212.6" y2="304.32" stroke="#ebebeb" stroke-width="0.8"/>
<text transform="translate(22.6,304.32) scale(1,1.06)" y="2.55" font-size="6.2" fill="#454545" font-family="Liberation Sans, sans-serif">P2</text>
<line x1="39.4" y1="310.14" x2="212.6" y2="310.14" stroke="#ebebeb" stroke-width="0.8"/>
<text transform="translate(22.6,310.14) scale(1,1.06)" y="2.55" font-size="6.2" fill="#454545" font-family="Liberation Sans, sans-serif">P3</text>
<line x1="39.4" y1="315.96" x2="212.6" y2="315.96" stroke="#ebebeb" stroke-width="0.8"/>
<text transform="translate(22.6,315.96) scale(1,1.06)" y="2.55" font-size="6.2" fill="#454545" font-family="Liberation Sans, sans-serif">P4</text>
<line x1="39.4" y1="321.78" x2="212.6" y2="321.78" stroke="#ebebeb" stroke-width="0.8"/>
<text transform="translate(22.6,321.78) scale(1,1.06)" y="2.55" font-size="6.2" fill="#454545" font-family="Liberation Sans, sans-serif">P5</text>
<line x1="39.4" y1="327.60" x2="212.6" y2="327.60" stroke="#ebebeb" stroke-width="0.8"/>
<text transform="translate(22.6,327.60) scale(1,1.06)" y="2.55" font-size="6.2" fill="#454545" font-family="Liberation Sans, sans-serif">P6</text>
<line x1="39.4" y1="333.42" x2="212.6" y2="333.42" stroke="#ebebeb" stroke-width="0.8"/>
<text transform="translate(22.6,333.42) scale(1,1.06)" y="2.55" font-size="6.2" fill="#454545" font-family="Liberation Sans, sans-serif">P7</text>
<line x1="39.4" y1="339.24" x2="212.6" y2="339.24" stroke="#ebebeb" stroke-width="0.8"/>
<text transform="translate(22.6,339.24) scale(1,1.06)" y="2.55" font-size="6.2" fill="#454545" font-family="Liberation Sans, sans-serif">P8</text>
<line x1="39.4" y1="345.06" x2="212.6" y2="345.06" stroke="#ebebeb" stroke-width="0.8"/>
<text transform="translate(22.6,345.06) scale(1,1.06)" y="2.55" font-size="6.2" fill="#454545" font-family="Liberation Sans, sans-serif">P9</text>
<line x1="39.4" y1="350.88" x2="212.6" y2="350.88" stroke="#ebebeb" stroke-width="0.8"/>
<text transform="translate(22.6,350.88) scale(1,1.06)" y="2.55" font-size="6.2" fill="#454545" font-family="Liberation Sans, sans-serif">P10</text>
<line x1="39.4" y1="356.70" x2="212.6" y2="356.70" stroke="#ebebeb" stroke-width="0.8"/>
<text transform="translate(22.6,356.70) scale(1,1.06)" y="2.55" font-size="6.2" fill="#454545" font-family="Liberation Sans, sans-serif">P11</text>
<line x1="39.4" y1="362.52" x2="212.6" y2="362.52" stroke="#ebebeb" stroke-width="0.8"/>
<text transform="translate(22.6,362.52) scale(1,1.06)" y="2.55" font-size="6.2" fill="#454545" font-family="Liberation Sans, sans-serif">P12</text>
<rect x="37.4" y="292.4" width="177.2" height="75.8" fill="none" stroke="#959595" stroke-width="1.05"/>
<line x1="58.7" y1="368.2" x2="58.7" y2="370.9" stroke="#8a8a8a" stroke-width="0.8"/>
<text x="58.7" y="380.2" font-size="6.4" fill="#444" text-anchor="middle" font-family="Liberation Sans, sans-serif">-2</text>
<line x1="93.0" y1="368.2" x2="93.0" y2="370.9" stroke="#8a8a8a" stroke-width="0.8"/>
<text x="93.0" y="380.2" font-size="6.4" fill="#444" text-anchor="middle" font-family="Liberation Sans, sans-serif">0</text>
<line x1="127.2" y1="368.2" x2="127.2" y2="370.9" stroke="#8a8a8a" stroke-width="0.8"/>
<text x="127.2" y="380.2" font-size="6.4" fill="#444" text-anchor="middle" font-family="Liberation Sans, sans-serif">2</text>
<line x1="161.4" y1="368.2" x2="161.4" y2="370.9" stroke="#8a8a8a" stroke-width="0.8"/>
<text x="161.4" y="380.2" font-size="6.4" fill="#444" text-anchor="middle" font-family="Liberation Sans, sans-serif">4</text>
<line x1="195.7" y1="368.2" x2="195.7" y2="370.9" stroke="#8a8a8a" stroke-width="0.8"/>
<text x="195.7" y="380.2" font-size="6.4" fill="#444" text-anchor="middle" font-family="Liberation Sans, sans-serif">6</text>
<line x1="81.6" y1="298.50" x2="98.4" y2="298.50" stroke="#555" stroke-width="1.4"/>
<line x1="85.2" y1="304.32" x2="127.1" y2="304.32" stroke="#555" stroke-width="1.4"/>
<line x1="84.0" y1="310.14" x2="123.4" y2="310.14" stroke="#555" stroke-width="1.4"/>
<line x1="78.2" y1="315.96" x2="99.5" y2="315.96" stroke="#555" stroke-width="1.4"/>
<line x1="77.9" y1="321.78" x2="89.8" y2="321.78" stroke="#555" stroke-width="1.4"/>
<line x1="92.9" y1="327.60" x2="94.0" y2="327.60" stroke="#555" stroke-width="1.4"/>
<line x1="86.9" y1="333.42" x2="134.5" y2="333.42" stroke="#555" stroke-width="1.4"/>
<line x1="94.0" y1="339.24" x2="173.4" y2="339.24" stroke="#555" stroke-width="1.4"/>
<line x1="95.8" y1="345.06" x2="135.1" y2="345.06" stroke="#555" stroke-width="1.4"/>
<line x1="85.1" y1="350.88" x2="127.1" y2="350.88" stroke="#555" stroke-width="1.4"/>
<line x1="98.7" y1="356.70" x2="158.8" y2="356.70" stroke="#555" stroke-width="1.4"/>
<line x1="113.1" y1="362.52" x2="128.9" y2="362.52" stroke="#555" stroke-width="1.4"/>
<circle cx="98.4" cy="298.50" r="1.75" fill="#1fbf1f" stroke="#0a7a0a" stroke-width="0.6"/>
<circle cx="81.6" cy="298.50" r="1.95" fill="#ff0000"/>
<circle cx="127.1" cy="304.32" r="1.75" fill="#1fbf1f" stroke="#0a7a0a" stroke-width="0.6"/>
<circle cx="85.2" cy="304.32" r="1.95" fill="#ff0000"/>
<circle cx="123.4" cy="310.14" r="1.75" fill="#1fbf1f" stroke="#0a7a0a" stroke-width="0.6"/>
<circle cx="84.0" cy="310.14" r="1.95" fill="#ff0000"/>
<circle cx="99.5" cy="315.96" r="1.75" fill="#1fbf1f" stroke="#0a7a0a" stroke-width="0.6"/>
<circle cx="78.2" cy="315.96" r="1.95" fill="#ff0000"/>
<circle cx="89.8" cy="321.78" r="1.75" fill="#1fbf1f" stroke="#0a7a0a" stroke-width="0.6"/>
<circle cx="77.9" cy="321.78" r="1.95" fill="#ff0000"/>
<circle cx="94.0" cy="327.60" r="1.75" fill="#1fbf1f" stroke="#0a7a0a" stroke-width="0.6"/>
<circle cx="92.9" cy="327.60" r="1.95" fill="#ff0000"/>
<circle cx="134.5" cy="333.42" r="1.75" fill="#1fbf1f" stroke="#0a7a0a" stroke-width="0.6"/>
<circle cx="86.9" cy="333.42" r="1.95" fill="#ff0000"/>
<circle cx="173.4" cy="339.24" r="1.75" fill="#1fbf1f" stroke="#0a7a0a" stroke-width="0.6"/>
<circle cx="94.0" cy="339.24" r="1.95" fill="#ff0000"/>
<circle cx="135.1" cy="345.06" r="1.75" fill="#1fbf1f" stroke="#0a7a0a" stroke-width="0.6"/>
<circle cx="95.8" cy="345.06" r="1.95" fill="#ff0000"/>
<circle cx="127.1" cy="350.88" r="1.75" fill="#1fbf1f" stroke="#0a7a0a" stroke-width="0.6"/>
<circle cx="85.1" cy="350.88" r="1.95" fill="#ff0000"/>
<circle cx="158.8" cy="356.70" r="1.75" fill="#1fbf1f" stroke="#0a7a0a" stroke-width="0.6"/>
<circle cx="98.7" cy="356.70" r="1.95" fill="#ff0000"/>
<circle cx="128.9" cy="362.52" r="1.75" fill="#1fbf1f" stroke="#0a7a0a" stroke-width="0.6"/>
<circle cx="113.1" cy="362.52" r="1.95" fill="#ff0000"/>
<text x="344.7" y="282.6" font-size="7.33" font-weight="bold" fill="#111" text-anchor="middle" font-family="Liberation Sans, sans-serif">Spike Protein, D138Y (P.1 Manaus)</text>
<line x1="259.5" y1="298.90" x2="429.9" y2="298.90" stroke="#ebebeb" stroke-width="0.8"/>
<text transform="translate(243.8,298.90) scale(1,1.06)" y="2.55" font-size="6.2" fill="#454545" font-family="Liberation Sans, sans-serif">P1</text>
<line x1="259.5" y1="304.73" x2="429.9" y2="304.73" stroke="#ebebeb" stroke-width="0.8"/>
<text transform="translate(243.8,304.73) scale(1,1.06)" y="2.55" font-size="6.2" fill="#454545" font-family="Liberation Sans, sans-serif">P2</text>
<line x1="259.5" y1="310.56" x2="429.9" y2="310.56" stroke="#ebebeb" stroke-width="0.8"/>
<text transform="translate(243.8,310.56) scale(1,1.06)" y="2.55" font-size="6.2" fill="#454545" font-family="Liberation Sans, sans-serif">P3</text>
<line x1="259.5" y1="316.39" x2="429.9" y2="316.39" stroke="#ebebeb" stroke-width="0.8"/>
<text transform="translate(243.8,316.39) scale(1,1.06)" y="2.55" font-size="6.2" fill="#454545" font-family="Liberation Sans, sans-serif">P4</text>
<line x1="259.5" y1="322.22" x2="429.9" y2="322.22" stroke="#ebebeb" stroke-width="0.8"/>
<text transform="translate(243.8,322.22) scale(1,1.06)" y="2.55" font-size="6.2" fill="#454545" font-family="Liberation Sans, sans-serif">P5</text>
<line x1="259.5" y1="328.05" x2="429.9" y2="328.05" stroke="#ebebeb" stroke-width="0.8"/>
<text transform="translate(243.8,328.05) scale(1,1.06)" y="2.55" font-size="6.2" fill="#454545" font-family="Liberation Sans, sans-serif">P6</text>
<line x1="259.5" y1="333.88" x2="429.9" y2="333.88" stroke="#ebebeb" stroke-width="0.8"/>
<text transform="translate(243.8,333.88) scale(1,1.06)" y="2.55" font-size="6.2" fill="#454545" font-family="Liberation Sans, sans-serif">P7</text>
<line x1="259.5" y1="339.71" x2="429.9" y2="339.71" stroke="#ebebeb" stroke-width="0.8"/>
<text transform="translate(243.8,339.71) scale(1,1.06)" y="2.55" font-size="6.2" fill="#454545" font-family="Liberation Sans, sans-serif">P8</text>
<line x1="259.5" y1="345.54" x2="429.9" y2="345.54" stroke="#ebebeb" stroke-width="0.8"/>
<text transform="translate(243.8,345.54) scale(1,1.06)" y="2.55" font-size="6.2" fill="#454545" font-family="Liberation Sans, sans-serif">P9</text>
<line x1="259.5" y1="351.37" x2="429.9" y2="351.37" stroke="#ebebeb" stroke-width="0.8"/>
<text transform="translate(243.8,351.37) scale(1,1.06)" y="2.55" font-size="6.2" fill="#454545" font-family="Liberation Sans, sans-serif">P10</text>
<line x1="259.5" y1="357.20" x2="429.9" y2="357.20" stroke="#ebebeb" stroke-width="0.8"/>
<text transform="translate(243.8,357.20) scale(1,1.06)" y="2.55" font-size="6.2" fill="#454545" font-family="Liberation Sans, sans-serif">P11</text>
<line x1="259.5" y1="363.03" x2="429.9" y2="363.03" stroke="#ebebeb" stroke-width="0.8"/>
<text transform="translate(243.8,363.03) scale(1,1.06)" y="2.55" font-size="6.2" fill="#454545" font-family="Liberation Sans, sans-serif">P12</text>
<rect x="257.5" y="292.5" width="174.4" height="76.3" fill="none" stroke="#959595" stroke-width="1.05"/>
<line x1="281.8" y1="368.8" x2="281.8" y2="371.5" stroke="#8a8a8a" stroke-width="0.8"/>
<text x="281.8" y="380.5" font-size="6.4" fill="#444" text-anchor="middle" font-family="Liberation Sans, sans-serif">-2</text>
<line x1="318.1" y1="368.8" x2="318.1" y2="371.5" stroke="#8a8a8a" stroke-width="0.8"/>
<text x="318.1" y="380.5" font-size="6.4" fill="#444" text-anchor="middle" font-family="Liberation Sans, sans-serif">0</text>
<line x1="354.5" y1="368.8" x2="354.5" y2="371.5" stroke="#8a8a8a" stroke-width="0.8"/>
<text x="354.5" y="380.5" font-size="6.4" fill="#444" text-anchor="middle" font-family="Liberation Sans, sans-serif">2</text>
<line x1="390.9" y1="368.8" x2="390.9" y2="371.5" stroke="#8a8a8a" stroke-width="0.8"/>
<text x="390.9" y="380.5" font-size="6.4" fill="#444" text-anchor="middle" font-family="Liberation Sans, sans-serif">4</text>
<line x1="427.3" y1="368.8" x2="427.3" y2="371.5" stroke="#8a8a8a" stroke-width="0.8"/>
<text x="427.3" y="380.5" font-size="6.4" fill="#444" text-anchor="middle" font-family="Liberation Sans, sans-serif">6</text>
<line x1="341" y1="298.90" x2="376.6" y2="298.90" stroke="#555" stroke-width="1.4"/>
<line x1="318" y1="304.73" x2="354.2" y2="304.73" stroke="#555" stroke-width="1.4"/>
<line x1="322" y1="310.56" x2="360.5" y2="310.56" stroke="#555" stroke-width="1.4"/>
<line x1="300.2" y1="316.39" x2="347.8" y2="316.39" stroke="#555" stroke-width="1.4"/>
<line x1="308.5" y1="322.22" x2="349.1" y2="322.22" stroke="#555" stroke-width="1.4"/>
<line x1="318" y1="328.05" x2="363.7" y2="328.05" stroke="#555" stroke-width="1.4"/>
<line x1="346.2" y1="333.88" x2="389.6" y2="333.88" stroke="#555" stroke-width="1.4"/>
<line x1="306.3" y1="339.71" x2="365" y2="339.71" stroke="#555" stroke-width="1.4"/>
<line x1="309.7" y1="345.54" x2="364.5" y2="345.54" stroke="#555" stroke-width="1.4"/>
<line x1="330" y1="351.37" x2="355.6" y2="351.37" stroke="#555" stroke-width="1.4"/>
<line x1="307" y1="357.20" x2="373.9" y2="357.20" stroke="#555" stroke-width="1.4"/>
<line x1="334.4" y1="363.03" x2="373.1" y2="363.03" stroke="#555" stroke-width="1.4"/>
<circle cx="376.6" cy="298.90" r="1.75" fill="#1fbf1f" stroke="#0a7a0a" stroke-width="0.6"/>
<circle cx="341" cy="298.90" r="1.95" fill="#ff0000"/>
<circle cx="354.2" cy="304.73" r="1.75" fill="#1fbf1f" stroke="#0a7a0a" stroke-width="0.6"/>
<circle cx="318" cy="304.73" r="1.95" fill="#ff0000"/>
<circle cx="360.5" cy="310.56" r="1.75" fill="#1fbf1f" stroke="#0a7a0a" stroke-width="0.6"/>
<circle cx="322" cy="310.56" r="1.95" fill="#ff0000"/>
<circle cx="347.8" cy="316.39" r="1.75" fill="#1fbf1f" stroke="#0a7a0a" stroke-width="0.6"/>
<circle cx="300.2" cy="316.39" r="1.95" fill="#ff0000"/>
<circle cx="349.1" cy="322.22" r="1.75" fill="#1fbf1f" stroke="#0a7a0a" stroke-width="0.6"/>
<circle cx="308.5" cy="322.22" r="1.95" fill="#ff0000"/>
<circle cx="363.7" cy="328.05" r="1.75" fill="#1fbf1f" stroke="#0a7a0a" stroke-width="0.6"/>
<circle cx="318" cy="328.05" r="1.95" fill="#ff0000"/>
<circle cx="389.6" cy="333.88" r="1.75" fill="#1fbf1f" stroke="#0a7a0a" stroke-width="0.6"/>
<circle cx="346.2" cy="333.88" r="1.95" fill="#ff0000"/>
<circle cx="365" cy="339.71" r="1.75" fill="#1fbf1f" stroke="#0a7a0a" stroke-width="0.6"/>
<circle cx="306.3" cy="339.71" r="1.95" fill="#ff0000"/>
<circle cx="364.5" cy="345.54" r="1.75" fill="#1fbf1f" stroke="#0a7a0a" stroke-width="0.6"/>
<circle cx="309.7" cy="345.54" r="1.95" fill="#ff0000"/>
<circle cx="355.6" cy="351.37" r="1.75" fill="#1fbf1f" stroke="#0a7a0a" stroke-width="0.6"/>
<circle cx="330" cy="351.37" r="1.95" fill="#ff0000"/>
<circle cx="373.9" cy="357.20" r="1.75" fill="#1fbf1f" stroke="#0a7a0a" stroke-width="0.6"/>
<circle cx="307" cy="357.20" r="1.95" fill="#ff0000"/>
<circle cx="373.1" cy="363.03" r="1.75" fill="#1fbf1f" stroke="#0a7a0a" stroke-width="0.6"/>
<circle cx="334.4" cy="363.03" r="1.95" fill="#ff0000"/>
<text x="124.2" y="398.9" font-size="7.33" font-weight="bold" fill="#111" text-anchor="middle" font-family="Liberation Sans, sans-serif">Nucleocapsid Phosphoprotein, P80R (P.1 Manaus)</text>
<line x1="37.7" y1="415.60" x2="210.7" y2="415.60" stroke="#ebebeb" stroke-width="0.8"/>
<text transform="translate(22.3,415.60) scale(1,1.06)" y="2.55" font-size="6.2" fill="#454545" font-family="Liberation Sans, sans-serif">P1</text>
<line x1="37.7" y1="421.67" x2="210.7" y2="421.67" stroke="#ebebeb" stroke-width="0.8"/>
<text transform="translate(22.3,421.67) scale(1,1.06)" y="2.55" font-size="6.2" fill="#454545" font-family="Liberation Sans, sans-serif">P2</text>
<line x1="37.7" y1="427.74" x2="210.7" y2="427.74" stroke="#ebebeb" stroke-width="0.8"/>
<text transform="translate(22.3,427.74) scale(1,1.06)" y="2.55" font-size="6.2" fill="#454545" font-family="Liberation Sans, sans-serif">P3</text>
<line x1="37.7" y1="433.81" x2="210.7" y2="433.81" stroke="#ebebeb" stroke-width="0.8"/>
<text transform="translate(22.3,433.81) scale(1,1.06)" y="2.55" font-size="6.2" fill="#454545" font-family="Liberation Sans, sans-serif">P4</text>
<line x1="37.7" y1="439.88" x2="210.7" y2="439.88" stroke="#ebebeb" stroke-width="0.8"/>
<text transform="translate(22.3,439.88) scale(1,1.06)" y="2.55" font-size="6.2" fill="#454545" font-family="Liberation Sans, sans-serif">P5</text>
<line x1="37.7" y1="445.95" x2="210.7" y2="445.95" stroke="#ebebeb" stroke-width="0.8"/>
<text transform="translate(22.3,445.95) scale(1,1.06)" y="2.55" font-size="6.2" fill="#454545" font-family="Liberation Sans, sans-serif">P6</text>
<line x1="37.7" y1="452.02" x2="210.7" y2="452.02" stroke="#ebebeb" stroke-width="0.8"/>
<text transform="translate(22.3,452.02) scale(1,1.06)" y="2.55" font-size="6.2" fill="#454545" font-family="Liberation Sans, sans-serif">P7</text>
<line x1="37.7" y1="458.09" x2="210.7" y2="458.09" stroke="#ebebeb" stroke-width="0.8"/>
<text transform="translate(22.3,458.09) scale(1,1.06)" y="2.55" font-size="6.2" fill="#454545" font-family="Liberation Sans, sans-serif">P8</text>
<line x1="37.7" y1="464.16" x2="210.7" y2="464.16" stroke="#ebebeb" stroke-width="0.8"/>
<text transform="translate(22.3,464.16) scale(1,1.06)" y="2.55" font-size="6.2" fill="#454545" font-family="Liberation Sans, sans-serif">P9</text>
<line x1="37.7" y1="470.23" x2="210.7" y2="470.23" stroke="#ebebeb" stroke-width="0.8"/>
<text transform="translate(22.3,470.23) scale(1,1.06)" y="2.55" font-size="6.2" fill="#454545" font-family="Liberation Sans, sans-serif">P10</text>
<line x1="37.7" y1="476.30" x2="210.7" y2="476.30" stroke="#ebebeb" stroke-width="0.8"/>
<text transform="translate(22.3,476.30) scale(1,1.06)" y="2.55" font-size="6.2" fill="#454545" font-family="Liberation Sans, sans-serif">P11</text>
<line x1="37.7" y1="482.37" x2="210.7" y2="482.37" stroke="#ebebeb" stroke-width="0.8"/>
<text transform="translate(22.3,482.37) scale(1,1.06)" y="2.55" font-size="6.2" fill="#454545" font-family="Liberation Sans, sans-serif">P12</text>
<rect x="35.7" y="409.3" width="177.0" height="78.2" fill="none" stroke="#959595" stroke-width="1.05"/>
<line x1="57.3" y1="487.5" x2="57.3" y2="490.2" stroke="#8a8a8a" stroke-width="0.8"/>
<text x="57.3" y="500.3" font-size="6.4" fill="#444" text-anchor="middle" font-family="Liberation Sans, sans-serif">-2</text>
<line x1="93.5" y1="487.5" x2="93.5" y2="490.2" stroke="#8a8a8a" stroke-width="0.8"/>
<text x="93.5" y="500.3" font-size="6.4" fill="#444" text-anchor="middle" font-family="Liberation Sans, sans-serif">0</text>
<line x1="129.7" y1="487.5" x2="129.7" y2="490.2" stroke="#8a8a8a" stroke-width="0.8"/>
<text x="129.7" y="500.3" font-size="6.4" fill="#444" text-anchor="middle" font-family="Liberation Sans, sans-serif">2</text>
<line x1="166.0" y1="487.5" x2="166.0" y2="490.2" stroke="#8a8a8a" stroke-width="0.8"/>
<text x="166.0" y="500.3" font-size="6.4" fill="#444" text-anchor="middle" font-family="Liberation Sans, sans-serif">4</text>
<line x1="202.3" y1="487.5" x2="202.3" y2="490.2" stroke="#8a8a8a" stroke-width="0.8"/>
<text x="202.3" y="500.3" font-size="6.4" fill="#444" text-anchor="middle" font-family="Liberation Sans, sans-serif">6</text>
<line x1="90.1" y1="415.60" x2="96.4" y2="415.60" stroke="#555" stroke-width="1.4"/>
<line x1="102.9" y1="421.67" x2="117.3" y2="421.67" stroke="#555" stroke-width="1.4"/>
<line x1="95.3" y1="427.74" x2="110.7" y2="427.74" stroke="#555" stroke-width="1.4"/>
<line x1="84.7" y1="433.81" x2="89.7" y2="433.81" stroke="#555" stroke-width="1.4"/>
<line x1="78.9" y1="439.88" x2="90.3" y2="439.88" stroke="#555" stroke-width="1.4"/>
<line x1="88.1" y1="445.95" x2="96.4" y2="445.95" stroke="#555" stroke-width="1.4"/>
<line x1="105.2" y1="452.02" x2="124.3" y2="452.02" stroke="#555" stroke-width="1.4"/>
<line x1="158" y1="458.09" x2="170.7" y2="458.09" stroke="#555" stroke-width="1.4"/>
<line x1="107.8" y1="464.16" x2="121.6" y2="464.16" stroke="#555" stroke-width="1.4"/>
<line x1="100.5" y1="470.23" x2="117.1" y2="470.23" stroke="#555" stroke-width="1.4"/>
<line x1="104.8" y1="476.30" x2="166.9" y2="476.30" stroke="#555" stroke-width="1.4"/>
<line x1="110" y1="482.37" x2="146.4" y2="482.37" stroke="#555" stroke-width="1.4"/>
<circle cx="96.4" cy="415.60" r="1.75" fill="#1fbf1f" stroke="#0a7a0a" stroke-width="0.6"/>
<circle cx="90.1" cy="415.60" r="1.95" fill="#ff0000"/>
<circle cx="117.3" cy="421.67" r="1.75" fill="#1fbf1f" stroke="#0a7a0a" stroke-width="0.6"/>
<circle cx="102.9" cy="421.67" r="1.95" fill="#ff0000"/>
<circle cx="110.7" cy="427.74" r="1.75" fill="#1fbf1f" stroke="#0a7a0a" stroke-width="0.6"/>
<circle cx="95.3" cy="427.74" r="1.95" fill="#ff0000"/>
<circle cx="89.7" cy="433.81" r="1.75" fill="#1fbf1f" stroke="#0a7a0a" stroke-width="0.6"/>
<circle cx="84.7" cy="433.81" r="1.95" fill="#ff0000"/>
<circle cx="90.3" cy="439.88" r="1.75" fill="#1fbf1f" stroke="#0a7a0a" stroke-width="0.6"/>
<circle cx="78.9" cy="439.88" r="1.95" fill="#ff0000"/>
<circle cx="96.4" cy="445.95" r="1.75" fill="#1fbf1f" stroke="#0a7a0a" stroke-width="0.6"/>
<circle cx="88.1" cy="445.95" r="1.95" fill="#ff0000"/>
<circle cx="124.3" cy="452.02" r="1.75" fill="#1fbf1f" stroke="#0a7a0a" stroke-width="0.6"/>
<circle cx="105.2" cy="452.02" r="1.95" fill="#ff0000"/>
<circle cx="170.7" cy="458.09" r="1.75" fill="#1fbf1f" stroke="#0a7a0a" stroke-width="0.6"/>
<circle cx="158" cy="458.09" r="1.95" fill="#ff0000"/>
<circle cx="121.6" cy="464.16" r="1.75" fill="#1fbf1f" stroke="#0a7a0a" stroke-width="0.6"/>
<circle cx="107.8" cy="464.16" r="1.95" fill="#ff0000"/>
<circle cx="117.1" cy="470.23" r="1.75" fill="#1fbf1f" stroke="#0a7a0a" stroke-width="0.6"/>
<circle cx="100.5" cy="470.23" r="1.95" fill="#ff0000"/>
<circle cx="166.9" cy="476.30" r="1.75" fill="#1fbf1f" stroke="#0a7a0a" stroke-width="0.6"/>
<circle cx="104.8" cy="476.30" r="1.95" fill="#ff0000"/>
<circle cx="146.4" cy="482.37" r="1.75" fill="#1fbf1f" stroke="#0a7a0a" stroke-width="0.6"/>
<circle cx="110" cy="482.37" r="1.95" fill="#ff0000"/>
<text x="343.8" y="395.1" font-size="7.33" font-weight="bold" fill="#111" text-anchor="middle" font-family="Liberation Sans, sans-serif">Nucleocapsid Phosphoprotein, P80R (P.1 Manaus)</text>
<line x1="257.5" y1="412.60" x2="430.1" y2="412.60" stroke="#ebebeb" stroke-width="0.8"/>
<text transform="translate(241.9,412.60) scale(1,1.06)" y="2.55" font-size="6.2" fill="#454545" font-family="Liberation Sans, sans-serif">P1</text>
<line x1="257.5" y1="418.80" x2="430.1" y2="418.80" stroke="#ebebeb" stroke-width="0.8"/>
<text transform="translate(241.9,418.80) scale(1,1.06)" y="2.55" font-size="6.2" fill="#454545" font-family="Liberation Sans, sans-serif">P2</text>
<line x1="257.5" y1="425.00" x2="430.1" y2="425.00" stroke="#ebebeb" stroke-width="0.8"/>
<text transform="translate(241.9,425.00) scale(1,1.06)" y="2.55" font-size="6.2" fill="#454545" font-family="Liberation Sans, sans-serif">P3</text>
<line x1="257.5" y1="431.20" x2="430.1" y2="431.20" stroke="#ebebeb" stroke-width="0.8"/>
<text transform="translate(241.9,431.20) scale(1,1.06)" y="2.55" font-size="6.2" fill="#454545" font-family="Liberation Sans, sans-serif">P4</text>
<line x1="257.5" y1="437.40" x2="430.1" y2="437.40" stroke="#ebebeb" stroke-width="0.8"/>
<text transform="translate(241.9,437.40) scale(1,1.06)" y="2.55" font-size="6.2" fill="#454545" font-family="Liberation Sans, sans-serif">P5</text>
<line x1="257.5" y1="443.60" x2="430.1" y2="443.60" stroke="#ebebeb" stroke-width="0.8"/>
<text transform="translate(241.9,443.60) scale(1,1.06)" y="2.55" font-size="6.2" fill="#454545" font-family="Liberation Sans, sans-serif">P6</text>
<line x1="257.5" y1="449.80" x2="430.1" y2="449.80" stroke="#ebebeb" stroke-width="0.8"/>
<text transform="translate(241.9,449.80) scale(1,1.06)" y="2.55" font-size="6.2" fill="#454545" font-family="Liberation Sans, sans-serif">P7</text>
<line x1="257.5" y1="456.00" x2="430.1" y2="456.00" stroke="#ebebeb" stroke-width="0.8"/>
<text transform="translate(241.9,456.00) scale(1,1.06)" y="2.55" font-size="6.2" fill="#454545" font-family="Liberation Sans, sans-serif">P8</text>
<line x1="257.5" y1="462.20" x2="430.1" y2="462.20" stroke="#ebebeb" stroke-width="0.8"/>
<text transform="translate(241.9,462.20) scale(1,1.06)" y="2.55" font-size="6.2" fill="#454545" font-family="Liberation Sans, sans-serif">P9</text>
<line x1="257.5" y1="468.40" x2="430.1" y2="468.40" stroke="#ebebeb" stroke-width="0.8"/>
<text transform="translate(241.9,468.40) scale(1,1.06)" y="2.55" font-size="6.2" fill="#454545" font-family="Liberation Sans, sans-serif">P10</text>
<line x1="257.5" y1="474.60" x2="430.1" y2="474.60" stroke="#ebebeb" stroke-width="0.8"/>
<text transform="translate(241.9,474.60) scale(1,1.06)" y="2.55" font-size="6.2" fill="#454545" font-family="Liberation Sans, sans-serif">P11</text>
<line x1="257.5" y1="480.80" x2="430.1" y2="480.80" stroke="#ebebeb" stroke-width="0.8"/>
<text transform="translate(241.9,480.80) scale(1,1.06)" y="2.55" font-size="6.2" fill="#454545" font-family="Liberation Sans, sans-serif">P12</text>
<rect x="255.5" y="406.2" width="176.6" height="81.0" fill="none" stroke="#959595" stroke-width="1.05"/>
<line x1="262.5" y1="487.2" x2="262.5" y2="489.9" stroke="#8a8a8a" stroke-width="0.8"/>
<text x="262.5" y="499.8" font-size="6.4" fill="#444" text-anchor="middle" font-family="Liberation Sans, sans-serif">-2</text>
<line x1="303.2" y1="487.2" x2="303.2" y2="489.9" stroke="#8a8a8a" stroke-width="0.8"/>
<text x="303.2" y="499.8" font-size="6.4" fill="#444" text-anchor="middle" font-family="Liberation Sans, sans-serif">0</text>
<line x1="344.1" y1="487.2" x2="344.1" y2="489.9" stroke="#8a8a8a" stroke-width="0.8"/>
<text x="344.1" y="499.8" font-size="6.4" fill="#444" text-anchor="middle" font-family="Liberation Sans, sans-serif">2</text>
<line x1="385.1" y1="487.2" x2="385.1" y2="489.9" stroke="#8a8a8a" stroke-width="0.8"/>
<text x="385.1" y="499.8" font-size="6.4" fill="#444" text-anchor="middle" font-family="Liberation Sans, sans-serif">4</text>
<line x1="425.8" y1="487.2" x2="425.8" y2="489.9" stroke="#8a8a8a" stroke-width="0.8"/>
<text x="425.8" y="499.8" font-size="6.4" fill="#444" text-anchor="middle" font-family="Liberation Sans, sans-serif">6</text>
<line x1="348" y1="412.60" x2="360.5" y2="412.60" stroke="#555" stroke-width="1.4"/>
<line x1="319.6" y1="418.80" x2="337.8" y2="418.80" stroke="#555" stroke-width="1.4"/>
<line x1="320.3" y1="425.00" x2="334.5" y2="425.00" stroke="#555" stroke-width="1.4"/>
<line x1="313.4" y1="431.20" x2="315.9" y2="431.20" stroke="#555" stroke-width="1.4"/>
<line x1="319.4" y1="437.40" x2="330.8" y2="437.40" stroke="#555" stroke-width="1.4"/>
<line x1="335.4" y1="443.60" x2="340.1" y2="443.60" stroke="#555" stroke-width="1.4"/>
<line x1="349.4" y1="449.80" x2="377.2" y2="449.80" stroke="#555" stroke-width="1.4"/>
<line x1="330.4" y1="456.00" x2="348" y2="456.00" stroke="#555" stroke-width="1.4"/>
<line x1="324.1" y1="462.20" x2="334" y2="462.20" stroke="#555" stroke-width="1.4"/>
<line x1="321.1" y1="468.40" x2="338.3" y2="468.40" stroke="#555" stroke-width="1.4"/>
<line x1="325.2" y1="474.60" x2="353.2" y2="474.60" stroke="#555" stroke-width="1.4"/>
<line x1="341.3" y1="480.80" x2="365.5" y2="480.80" stroke="#555" stroke-width="1.4"/>
<circle cx="360.5" cy="412.60" r="1.75" fill="#1fbf1f" stroke="#0a7a0a" stroke-width="0.6"/>
<circle cx="348" cy="412.60" r="1.95" fill="#ff0000"/>
<circle cx="337.8" cy="418.80" r="1.75" fill="#1fbf1f" stroke="#0a7a0a" stroke-width="0.6"/>
<circle cx="319.6" cy="418.80" r="1.95" fill="#ff0000"/>
<circle cx="334.5" cy="425.00" r="1.75" fill="#1fbf1f" stroke="#0a7a0a" stroke-width="0.6"/>
<circle cx="320.3" cy="425.00" r="1.95" fill="#ff0000"/>
<circle cx="315.9" cy="431.20" r="1.75" fill="#1fbf1f" stroke="#0a7a0a" stroke-width="0.6"/>
<circle cx="313.4" cy="431.20" r="1.95" fill="#ff0000"/>
<circle cx="330.8" cy="437.40" r="1.75" fill="#1fbf1f" stroke="#0a7a0a" stroke-width="0.6"/>
<circle cx="319.4" cy="437.40" r="1.95" fill="#ff0000"/>
<circle cx="340.1" cy="443.60" r="1.75" fill="#1fbf1f" stroke="#0a7a0a" stroke-width="0.6"/>
<circle cx="335.4" cy="443.60" r="1.95" fill="#ff0000"/>
<circle cx="377.2" cy="449.80" r="1.75" fill="#1fbf1f" stroke="#0a7a0a" stroke-width="0.6"/>
<circle cx="349.4" cy="449.80" r="1.95" fill="#ff0000"/>
<circle cx="348" cy="456.00" r="1.75" fill="#1fbf1f" stroke="#0a7a0a" stroke-width="0.6"/>
<circle cx="330.4" cy="456.00" r="1.95" fill="#ff0000"/>
<circle cx="334" cy="462.20" r="1.75" fill="#1fbf1f" stroke="#0a7a0a" stroke-width="0.6"/>
<circle cx="324.1" cy="462.20" r="1.95" fill="#ff0000"/>
<circle cx="338.3" cy="468.40" r="1.75" fill="#1fbf1f" stroke="#0a7a0a" stroke-width="0.6"/>
<circle cx="321.1" cy="468.40" r="1.95" fill="#ff0000"/>
<circle cx="353.2" cy="474.60" r="1.75" fill="#1fbf1f" stroke="#0a7a0a" stroke-width="0.6"/>
<circle cx="325.2" cy="474.60" r="1.95" fill="#ff0000"/>
<circle cx="365.5" cy="480.80" r="1.75" fill="#1fbf1f" stroke="#0a7a0a" stroke-width="0.6"/>
<circle cx="341.3" cy="480.80" r="1.95" fill="#ff0000"/>
<text x="125.9" y="511.6" font-size="8.8" font-weight="bold" fill="#111" stroke="#111" stroke-width="0.15" text-anchor="middle" font-family="Liberation Sans, sans-serif">Z-score</text>
<text x="343.8" y="511.2" font-size="8.8" font-weight="bold" fill="#111" stroke="#111" stroke-width="0.15" text-anchor="middle" font-family="Liberation Sans, sans-serif">Z-score</text>
<circle cx="370.8" cy="524" r="4.7" fill="#ff0000"/>
<circle cx="370.8" cy="536.6" r="4.7" fill="#11ee11"/>
<text x="384.3" y="528.4" font-size="9.05" font-weight="bold" fill="#111" stroke="#111" stroke-width="0.12" font-family="Liberation Sans, sans-serif">Wild-type</text>
<text x="387.4" y="539.6" font-size="9.05" font-weight="bold" fill="#111" stroke="#111" stroke-width="0.12" font-family="Liberation Sans, sans-serif">Mutant</text>
</svg>
</body></html>
